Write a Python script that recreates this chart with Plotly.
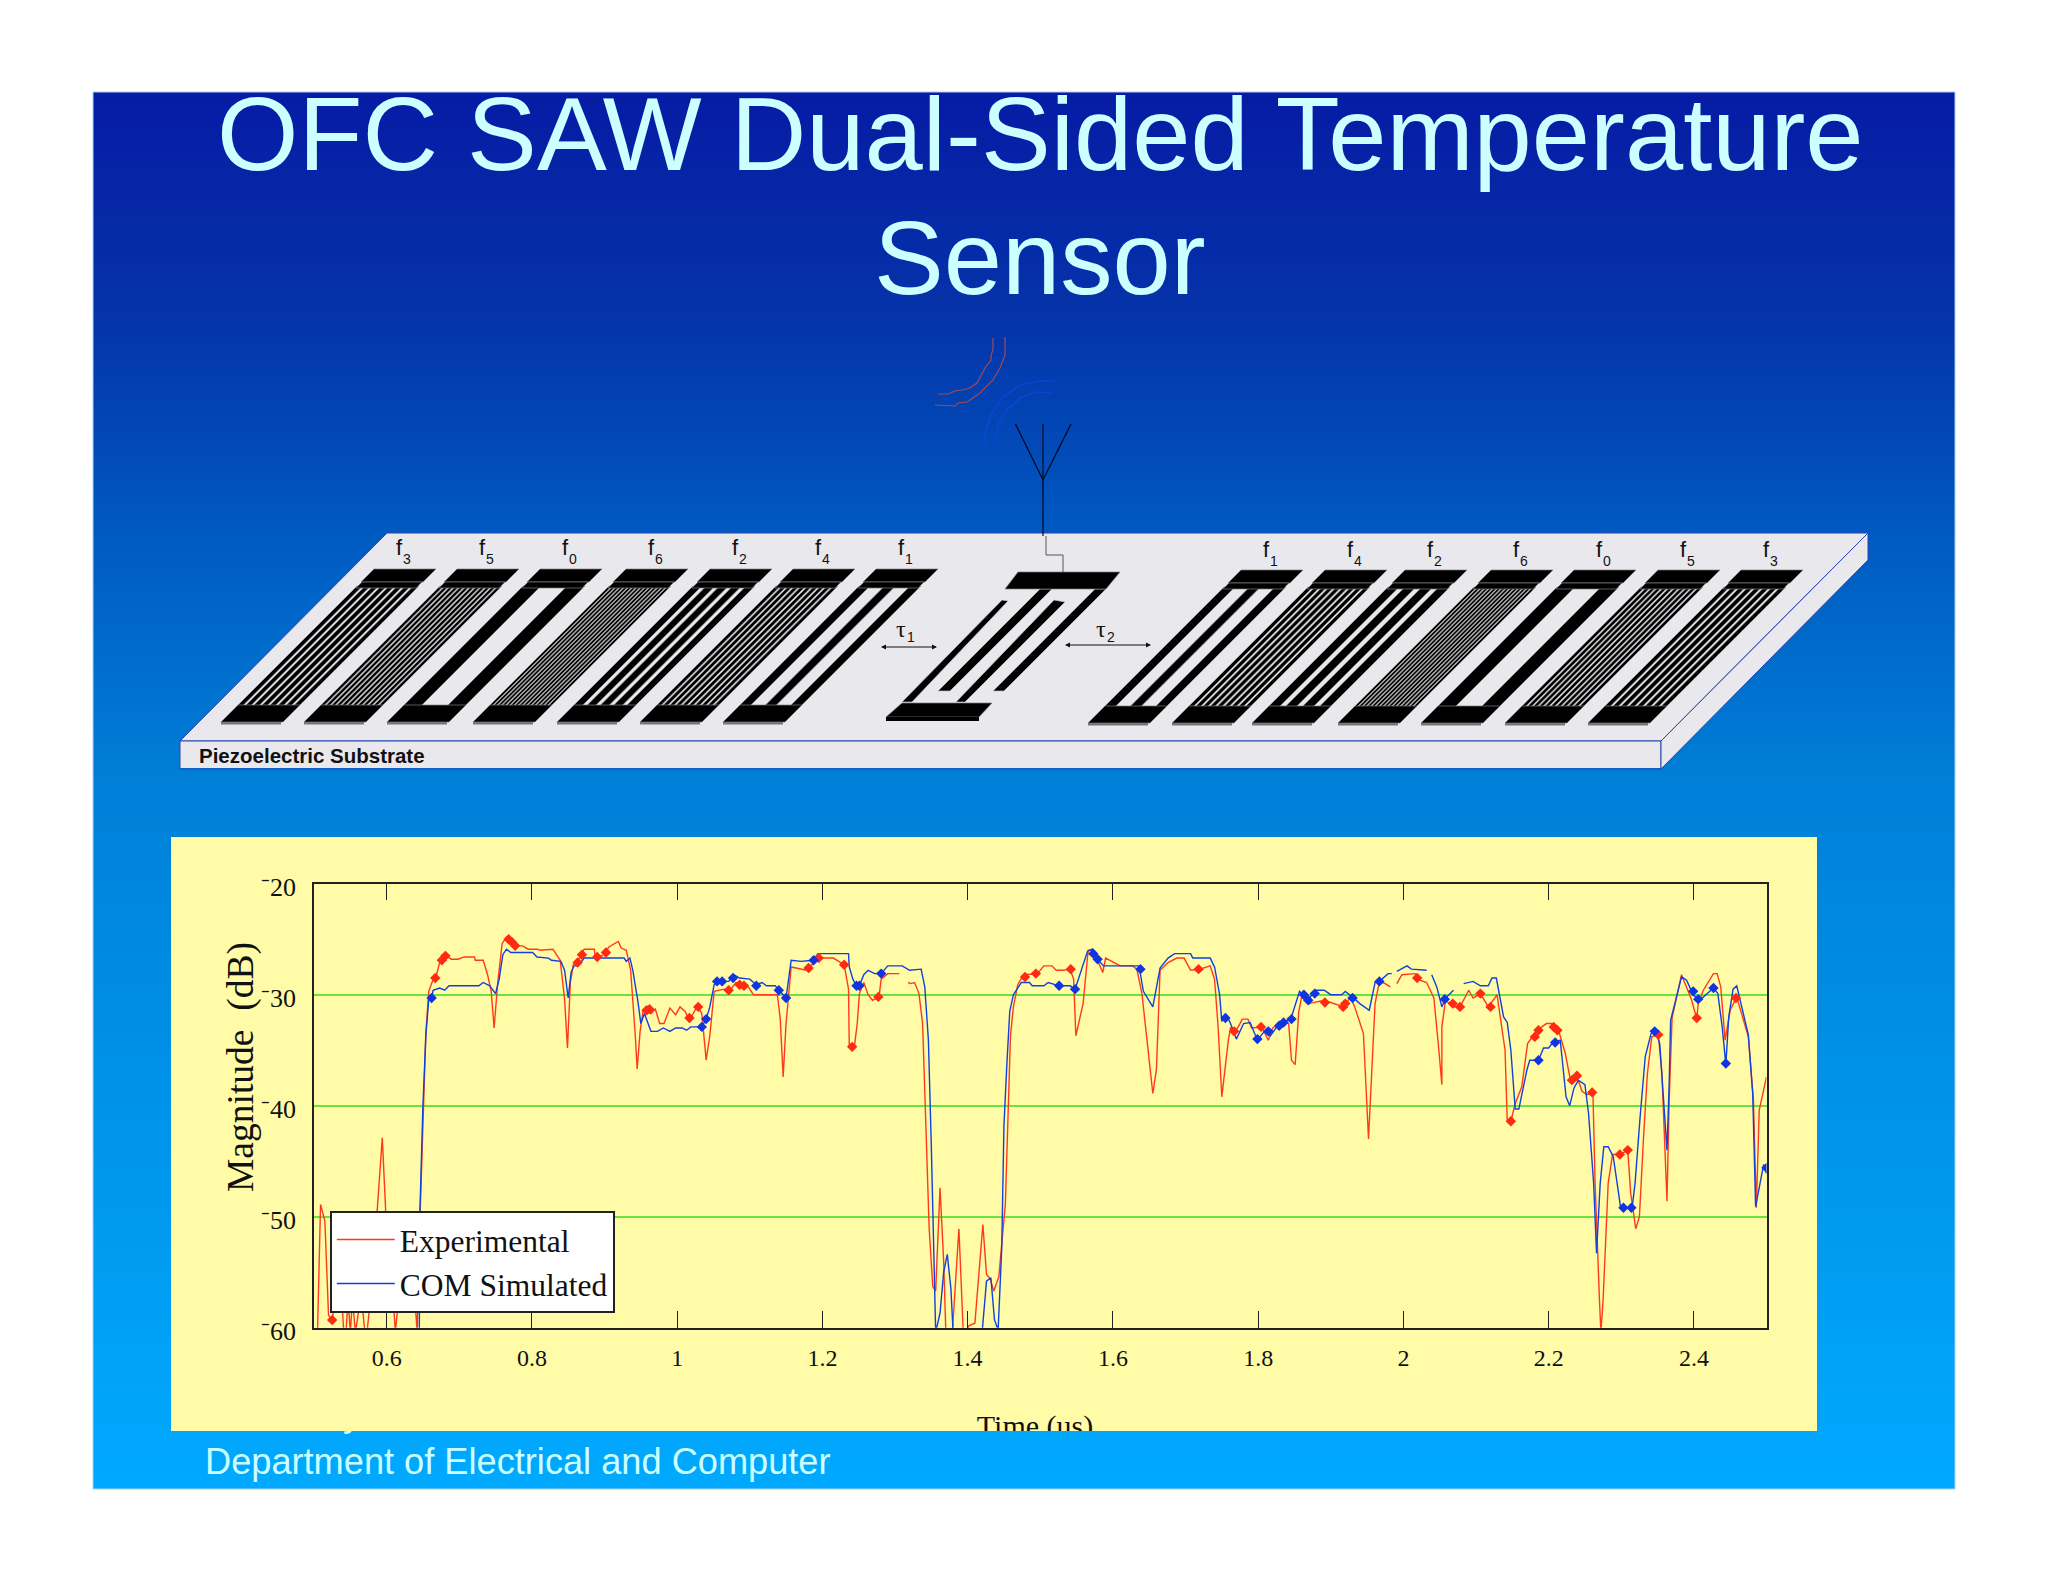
import numpy as np
import plotly.graph_objects as go

exp_time = [0.5, 0.505, 0.509, 0.515, 0.52, 0.525, 0.53, 0.536, 0.541, 0.544, 0.547, 0.55, 0.553, 0.557, 0.565, 0.57, 0.573, 0.58,
            0.594, 0.599, 0.606, 0.612, 0.617, 0.63, 0.638, 0.642, 0.646, 0.65, 0.654, 0.658, 0.663, 0.668, 0.673, 0.68, 0.689,
            0.698, 0.707, 0.721, 0.722, 0.733, 0.739, 0.744, 0.748, 0.753, 0.759, 0.765, 0.778, 0.787, 0.795, 0.808, 0.811,
            0.829, 0.839, 0.845, 0.849, 0.853, 0.857, 0.866, 0.872, 0.886, 0.887, 0.897, 0.906, 0.919, 0.923, 0.93, 0.936,
            0.942, 0.945, 0.949, 0.953, 0.958, 0.964, 0.97, 0.976, 0.982, 0.99, 0.998, 1.004, 1.011, 1.017, 1.028, 1.034,
            1.04, 1.045, 1.051, 1.065, 1.072, 1.081, 1.096, 1.105, 1.138, 1.142, 1.146, 1.15, 1.157, 1.178, 1.195, 1.215,
            1.23, 1.236, 1.237, 1.241, 1.244, 1.248, 1.251, 1.257, 1.263, 1.269, 1.278, 1.281, 1.29, 1.306, None, 1.318, 1.322,
            1.327, 1.333, 1.338, 1.342, 1.347, 1.352, 1.356, 1.362, 1.367, 1.37, 1.379, 1.388, 1.392, 1.394, 1.398, 1.402,
            1.41, 1.421, 1.426, 1.431, 1.436, 1.443, 1.452, 1.456, 1.459, 1.463, 1.469, 1.477, 1.496, 1.505, 1.516, 1.522,
            1.532, 1.541, 1.546, 1.549, 1.559, 1.566, 1.572, 1.579, 1.586, 1.59, 1.61, 1.627, 1.633, 1.64, 1.646, 1.655,
            1.66, 1.665, 1.676, 1.688, 1.698, 1.707, 1.72, 1.734, 1.74, 1.745, 1.75, 1.759, 1.762, 1.769, 1.775, 1.778,
            1.786, 1.791, 1.805, 1.814, 1.82, 1.835, 1.842, 1.846, 1.851, 1.856, 1.86, 1.87, 1.891, 1.918, 1.927, 1.933,
            1.945, 1.952, 1.961, 1.967, 1.975, 1.982, None, 1.991, 1.998, 2.016, 2.023, 2.032, 2.042, 2.048, 2.053, 2.053, 2.058,
            2.069, 2.078, 2.09, 2.096, 2.106, 2.117, 2.129, 2.135, 2.14, 2.143, 2.148, 2.154, 2.163, 2.171, 2.184, 2.197,
            2.204, 2.214, 2.223, 2.23, 2.239, 2.246, 2.253, 2.261, 2.264, 2.27, 2.272, 2.275, 2.282, 2.288, 2.298, 2.309,
            2.313, 2.32, 2.325, 2.331, 2.336, 2.342, 2.351, 2.356, 2.363, 2.366, 2.37, 2.383, 2.39, 2.397, 2.404, 2.406,
            2.413, 2.427, 2.432, 2.437, 2.443, 2.45, 2.459, 2.475, 2.482, 2.486, 2.49, 2.5]
exp_mag = [-60.4, -60, -48.9, -50.4, -58.9, -59.3, -57, -55, -60.4, -60.4, -57.5, -60.4, -57.5, -60.4, -57, -60.4, -60.4, -56,
           -42.9, -49.9, -54, -60.4, -57, -56, -56.5, -60.4, -50, -41, -33.5, -29.7, -28.8, -28.4, -27.1, -26.4, -26.8,
           -26.8, -26.6, -26.6, -26.9, -26.9, -28.2, -29.7, -33, -28.9, -25.4, -24.8, -25.6, -25.6, -25.9, -25.9, -26,
           -25.9, -26.9, -30.4, -34.8, -28.9, -27.3, -26.7, -25.9, -25.9, -26.5, -26.5, -25.7, -25.2, -25.8, -26, -27.8,
           -33.3, -36.7, -33.3, -31.5, -31.1, -31.7, -31.3, -32.6, -32.6, -31.2, -31.8, -31.1, -31.5, -32.3, -31, -31.7,
           -35.9, -33.7, -29.7, -29.5, -29.7, -28.9, -29.1, -30, -30, -32.2, -37.4, -32.6, -27.5, -27.8, -26.7, -26.7,
           -27.3, -29.5, -34.6, -34.7, -34.7, -32.6, -29.9, -28.9, -30, -30.5, -30.2, -28.6, -28.1, -28.1, None, -28.9, -29,
           -28.9, -29.9, -32.6, -40, -51, -56.3, -56.7, -47.4, -54, -60.4, -60.4, -51.1, -58, -60.4, -60.4, -59.8,
           -59.6, -50.7, -55.2, -55.6, -56.7, -55.4, -48.8, -40, -33.7, -31.1, -29.1, -28.2, -28.1, -27.4, -27.4, -27.8,
           -27.8, -27.7, -28.6, -33.7, -30.8, -26, -25.9, -26.9, -28, -26.7, -27.4, -27.4, -27.7, -29.9, -33.7, -38.9,
           -36.7, -27.8, -27.1, -26.7, -26.7, -27.8, -27.7, -27.4, -28.6, -33, -39.2, -34.1, -33, -33.3, -32.6, -32.2,
           -32.2, -33, -32.9, -34.1, -33, -32.4, -32.6, -35.9, -36.3, -31.5, -30.2, -30.8, -30.5, -31.1, -30.2, -31.1,
           -33.5, -43, -30.8, -28.8, -29, -29.3, None, -29, -28.2, -28.1, -28.7, -28.9, -30.3, -34.4, -38.1, -32.9, -30.5,
           -31.1, -31.1, -29.6, -30.3, -29.9, -31.1, -30, -32.6, -35, -41.3, -41.4, -39.8, -38.3, -34.4, -33.2, -32.6,
           -32.6, -33.3, -35.3, -37.7, -37.4, -38.7, -39, -38.8, -47, -57.5, -60.4, -57.5, -47, -44.4, -44.4, -44,
           -47.9, -51.1, -50, -42.5, -37.1, -33.8, -33.6, -37.1, -48.6, -39.5, -32.1, -28.2, -29.3, -30.5, -32.2, -30.8,
           -29.6, -28.1, -28.1, -29.3, -34.1, -31.4, -30.2, -33.8, -39.5, -49.2, -40.4, -37.4]

sim_time = [0.643, 0.645, 0.646, 0.65, 0.654, 0.658, 0.662, 0.664, 0.673, 0.68, 0.686, 0.727, 0.733, 0.742, 0.75, 0.755, 0.76, 0.765,
            0.771, 0.801, 0.807, 0.823, 0.827, 0.84, 0.845, 0.85, 0.854, 0.858, 0.864, 0.872, 0.927, 0.93, 0.935, 0.939,
            0.946, 0.95, 0.955, 0.964, 0.973, 0.981, 0.99, 0.998, 1.007, 1.013, 1.019, 1.034, 1.04, 1.045, 1.051, 1.055,
            1.071, 1.078, 1.086, 1.1, 1.109, 1.117, 1.123, 1.135, 1.15, 1.157, 1.171, 1.187, 1.194, 1.236, 1.237, 1.242,
            1.247, 1.251, 1.257, 1.263, 1.272, 1.281, 1.29, 1.31, 1.32, 1.336, 1.341, 1.346, 1.35, 1.354, 1.356, 1.362,
            1.367, 1.372, 1.377, 1.38, 1.42, 1.426, 1.432, 1.437, 1.442, 1.447, 1.45, 1.454, 1.458, 1.463, 1.474, 1.485,
            1.489, 1.505, 1.511, 1.526, 1.541, 1.548, 1.557, 1.565, 1.572, 1.579, 1.587, 1.636, 1.642, 1.655, 1.665, 1.676,
            1.685, 1.707, 1.71, 1.734, 1.74, 1.747, 1.75, 1.757, 1.762, 1.77, 1.78, 1.789, 1.799, 1.811, 1.817, 1.829,
            1.845, 1.857, 1.869, 1.878, 1.891, 1.9, 1.915, 1.92, 1.93, 1.94, 1.953, 1.961, 1.967, 1.979, 1.984, None, 1.991,
            2.005, 2.011, 2.032, None, 2.039, 2.046, 2.053, 2.058, 2.069, None, 2.083, 2.096, 2.106, 2.117, 2.122, 2.128, 2.138, 2.143,
            2.148, 2.154, 2.159, 2.17, 2.174, 2.186, 2.193, 2.2, 2.207, 2.216, 2.224, 2.229, 2.235, 2.241, 2.25, 2.255,
            2.262, 2.266, 2.271, 2.276, 2.282, 2.289, 2.299, 2.302, 2.315, 2.319, 2.326, 2.333, 2.341, 2.347, 2.353, 2.358,
            2.363, 2.366, 2.368, 2.383, 2.39, 2.399, 2.408, 2.427, 2.433, 2.439, 2.444, 2.448, 2.454, 2.459, 2.475, 2.481,
            2.485, 2.496, 2.5]
sim_mag = [-60.4, -60.4, -49.2, -40, -33.7, -30.4, -30.3, -29.6, -29.4, -29.6, -29.2, -29.2, -28.9, -29.2, -29.9, -28.6, -26.4, -25.9,
           -26.2, -26.2, -26.6, -26.7, -26.9, -27, -27.8, -30.3, -28, -27.4, -27.4, -26.7, -26.7, -27, -26.7, -27.8,
           -30.6, -32.6, -31.7, -33.3, -33.3, -33, -33.3, -33, -33, -33.2, -32.9, -32.9, -32.2, -31.1, -29.1, -28.8,
           -28.8, -28.2, -28.5, -28.6, -29.1, -28.9, -29.2, -29.2, -30.3, -26.9, -27, -26.9, -26.3, -26.3, -27.5, -28.6,
           -29.2, -29.2, -28.2, -27.8, -28.1, -28.1, -27.4, -27.4, -27.8, -27.7, -29.3, -34.1, -43.6, -56.5, -60.4, -58.7,
           -55, -53.4, -56.5, -60.4, -60.4, -55.8, -55.5, -59.3, -60.2, -52.8, -41.8, -36.3, -31.5, -30, -28.9, -28.9,
           -29.2, -29.2, -28.9, -29.2, -29.2, -29.5, -27.8, -26.1, -25.9, -26.8, -27.4, -27.4, -29.7, -31.1, -27.6, -26.7,
           -26.3, -26.3, -26.7, -26.7, -27.5, -30, -32.4, -31.9, -32.6, -34, -32.6, -32.5, -34.1, -33.1, -33.7, -32.6,
           -32.2, -29.7, -30.5, -29.6, -29.6, -30, -30, -29.7, -30.2, -30.8, -31.4, -28.9, -28.8, -28.1, -28.1, None, -27.9,
           -27.4, -27.7, -27.8, None, -28.2, -29.3, -31.1, -30.3, -29.6, None, -29, -28.8, -29.2, -29.2, -28.5, -28.5, -32, -32.5,
           -35, -40.3, -40.3, -36.8, -35.9, -35.9, -34.8, -34.8, -34.2, -34.1, -39.2, -40, -38.4, -37.7, -38.1, -40.7,
           -47, -53.3, -47, -43.7, -43.7, -44.6, -49.1, -49.2, -49.2, -47, -41, -35.6, -33.5, -33.2, -34.4, -39.5,
           -44, -38, -32.3, -28.4, -28.7, -30, -30.5, -29.4, -29.9, -32.9, -36.3, -32, -29.5, -29.2, -33.6, -38.9,
           -49.1, -45.3, -46.1]

# thick diamond blobs sitting on the curves
exp_mark_time = [0.525, 0.667, 0.676, 0.681, 0.768, 0.773, 0.777, 0.863, 0.869, 0.89, 0.902, 0.958, 0.962, 1.017, 1.029, 1.071, 1.086,
                 1.092, 1.181, 1.195, 1.23, 1.241, 1.277, 1.479, 1.494, 1.542, 1.718, 1.767, 1.804, 1.892, 1.917, 1.92, 2.019,
                 2.068, 2.078, 2.106, 2.12, 2.148, 2.181, 2.186, 2.207, 2.212, 2.232, 2.239, 2.26, 2.298, 2.309, 2.351, 2.404, 2.458]
exp_mark_mag = [-59.3, -28.5, -26.9, -26.5, -25, -25.3, -25.6, -27.1, -26.4, -26.6, -26.2, -31.4, -31.3, -32.1, -31.1, -29.6, -29.1,
                -29.2, -27.6, -26.7, -27.3, -34.7, -30.2, -28.4, -28.1, -27.7, -27.7, -33.3, -32.9, -30.7, -31.1, -30.8, -28.5,
                -30.8, -31.1, -29.9, -31.1, -41.4, -33.8, -33.2, -32.9, -33.2, -37.7, -37.3, -38.8, -44.4, -44, -33.6, -32.1, -30.3]
sim_mark_time = [0.662, 1.034, 1.04, 1.055, 1.062, 1.077, 1.109, 1.14, 1.15, 1.188, 1.247, 1.251, 1.281, 1.526, 1.548, 1.573, 1.579, 1.638,
                 1.755, 1.799, 1.814, 1.829, 1.835, 1.846, 1.863, 1.869, 1.878, 1.93, 1.967, 2.057, 2.186, 2.209, 2.303, 2.314, 2.346,
                 2.399, 2.406, 2.427, 2.444, 2.5]
sim_mark_mag = [-30.3, -32.9, -32.2, -28.8, -28.8, -28.5, -29.2, -29.6, -30.3, -26.9, -29.2, -29.2, -28.1, -29.2, -29.5, -26.3, -26.8, -27.7,
                -32.1, -34, -33.3, -32.8, -32.5, -32.2, -30, -30.5, -29.9, -30.3, -28.8, -30.4, -35.9, -34.3, -49.2, -49.2, -33.3,
                -29.7, -30.4, -29.4, -36.2, -45.6]

x_ticks = [0.6, 0.8, 1, 1.2, 1.4, 1.6, 1.8, 2, 2.2, 2.4]
y_ticks = [-60, -50, -40, -30, -20]
y_tick_labels = ["\u207b60", "\u207b50", "\u207b40", "\u207b30", "\u207b20"]

# the device drawing: bars are placed by their lower left corner, fingers are just counted
left_labels = ["3", "5", "0", "6", "2", "4", "1"]
left_bar_x = [221, 304, 387, 473, 557, 640, 723]
left_fingers = [8, 12, 2, 15, 5, 10, 3]
right_labels = ["1", "4", "2", "6", "0", "5", "3"]
right_bar_x = [1088, 1172, 1252, 1338, 1421, 1505, 1588]
right_fingers = [3, 9, 4, 15, 2, 11, 8]

SERIF = "Liberation Serif"
SANS = "Liberation Sans"
TITLE_COL = "#CCFFFF"
GREEN = "#66E63C"
RED = "#FF3A1C"
BLUE = "#1040E0"

# background stops for the slide
grad_y = [92, 320, 520, 780, 1488]
grad_r = [7, 5, 0, 0, 0]
grad_g = [28, 52, 88, 128, 170]
grad_b = [165, 170, 192, 216, 255]


def grad_col(y):
    return "rgb(%d,%d,%d)" % (np.interp(y, grad_y, grad_r), np.interp(y, grad_y, grad_g), np.interp(y, grad_y, grad_b))


shapes = []


def add_rect(x0, y0, x1, y1, col, layer="below"):
    shapes.append(dict(type="rect", xref="x", yref="y", x0=x0, y0=y0, x1=x1, y1=y1, layer=layer,
                       fillcolor=col, line=dict(width=0)))


def add_path(pts, fill=None, line="black", w=1, closed=True):
    p = "M " + " L ".join("%.1f,%.1f" % (a, b) for a, b in pts)
    if closed:
        p += " Z"
    shapes.append(dict(type="path", xref="x", yref="y", path=p, layer="below",
                       fillcolor=fill if fill else "rgba(0,0,0,0)",
                       line=dict(color=line, width=w)))


def slanted(x0, u0, u1, y0, y1, bot):
    # parallelogram on the 45 degree substrate
    return [(x0 + u0 + bot - y0, y0), (x0 + u1 + bot - y0, y0), (x0 + u1 + bot - y1, y1), (x0 + u0 + bot - y1, y1)]


def add_idt(x0, n, bot=722, width=62):
    # wide fingers for the short codes, the rest is a dense comb out to both edges
    sw = {2: 18, 3: 11}.get(n, 0.72 * width / n)
    pitch = (width - sw) / (n - 1)
    for i in range(n):
        u0 = pitch * i
        add_path(slanted(x0, u0, u0 + sw, bot - 136, bot - 16, bot), fill="black", line="#A0A0A0", w=0.7)
    add_path(slanted(x0, 0, width, bot - 153, bot - 140, bot), fill="black", line="#808080", w=0.7)
    add_path(slanted(x0, 1, width - 1, bot - 140, bot - 134, bot), fill="black", line="#808080", w=0.7)
    add_path(slanted(x0, 0, width, bot - 17, bot, bot), fill="black", line="#808080", w=0.7)
    add_rect(x0, bot, x0 + width - 2, bot + 2.5, "#777777")


# slide
for yy in range(92, 1489, 4):
    add_rect(93, yy, 1955, min(yy + 4, 1489), grad_col(yy))
add_path([(93, 92), (1955, 92), (1955, 1489), (93, 1489)], line="#A8D0F8", w=1)

# substrate
add_path([(387, 533), (1868, 533), (1661, 741), (180, 741)], fill="#E9E9ED", line="#2A45B0", w=1)
add_rect(180, 741, 1661, 768, "#E9E9ED")
add_path([(180, 741), (1661, 741), (1661, 769), (180, 769)], line="#2A45B0", w=1)
add_path([(1661, 741), (1868, 533), (1868, 560), (1661, 769)], fill="#E9E9ED", line="#2A45B0", w=1)

for xb, n in zip(left_bar_x, left_fingers):
    add_idt(xb, n)
for xb, n in zip(right_bar_x, right_fingers):
    add_idt(xb, n, bot=723)

# centre transducer
add_path([(902, 702), (912, 702), (1008, 601), (1002, 600)], fill="black", line="#C0C0C0", w=0.7)
add_path([(1040, 589), (1052, 589), (950, 691), (938, 691)], fill="black", line="#C0C0C0", w=0.7)
add_path([(956, 702), (965, 702), (1065, 602), (1054, 600)], fill="black", line="#C0C0C0", w=0.7)
add_path([(1095, 589), (1106, 589), (1004, 691), (993, 691)], fill="black", line="#C0C0C0", w=0.7)
add_path([(1018, 572), (1120, 572), (1106, 589), (1005, 589)], fill="black", line="#808080", w=0.7)
add_path([(902, 703), (992, 703), (979, 717), (886, 717)], fill="black", line="#808080", w=0.7)
add_rect(886, 717, 979, 721, "black")

# antenna, feed and the two pairs of wave arcs
add_path([(1015.5, 424), (1043, 480), (1071, 424)], line="#00081C", w=1.2, closed=False)
add_path([(1043, 424), (1043, 536)], line="#00081C", w=1.2, closed=False)
add_path([(1046, 536), (1046, 555), (1063, 555), (1063, 572)], line="#555555", w=1, closed=False)
add_path([(993, 338), (993, 350), (991, 355), (991, 360), (985, 368), (977, 383), (970, 388), (962, 390), (955, 391), (948, 394), (938, 394)],
         line="#A04A58", w=1.2, closed=False)
add_path([(1005, 337), (1005, 355), (1000, 368), (993, 380), (980, 393), (967, 402), (958, 403), (955, 406), (935, 405)],
         line="#A04A58", w=1.2, closed=False)
add_path([(985, 445), (985, 432), (992, 413), (1003, 397), (1020, 385), (1040, 381), (1055, 381)], line="#1244DC", w=1.2, closed=False)
add_path([(996, 442), (998, 425), (1007, 410), (1020, 398), (1037, 392), (1052, 393)], line="#1244DC", w=1.2, closed=False)

# the axis title runs off the yellow panel and gets cut at its edge
add_rect(950, 1431, 1130, 1465, grad_col(1448), layer="above")

anns = []


def note(x, y, text, size, col="black", font=SANS, weight="normal", **kw):
    anns.append(dict(xref="x", yref="y", x=x, y=y, text=text, showarrow=False,
                     font=dict(family=font, size=size, color=col, weight=weight), **kw))


note(1040, 133, "OFC SAW Dual-Sided Temperature", 104.7, TITLE_COL)
note(1040, 257, "Sensor", 104.7, TITLE_COL)
note(203, 1461, "Department of Electrical and Computer", 36.2, TITLE_COL, xanchor="left")
note(196.5, 755, "Piezoelectric Substrate", 20.5, "#111111", weight="bold", xanchor="left")
note(241, 1067, "Magnitude\u00a0\u00a0(dB)", 37.5, "#111111", SERIF, textangle=-90)

for lab, xb in zip(left_labels, left_bar_x):
    note(xb + 178, 547, "f", 22, "#111111")
    note(xb + 186, 559, lab, 14, "#111111")
for lab, xb in zip(right_labels, right_bar_x):
    note(xb + 178, 549, "f", 22, "#111111")
    note(xb + 186, 561, lab, 14, "#111111")
note(901, 629, "\u03c4", 24, "#111111", SERIF)
note(911, 637, "1", 14, "#111111")
note(1101, 629, "\u03c4", 24, "#111111", SERIF)
note(1111, 637, "2", 14, "#111111")

for x0, x1, yy in [(878, 937, 647), (1062, 1151, 645)]:
    anns.append(dict(xref="x", yref="y", axref="x", ayref="y", x=x1, y=yy, ax=x0, ay=yy, text=" ",
                     showarrow=True, arrowhead=2, arrowside="end+start", arrowsize=1, arrowwidth=1, arrowcolor="#111111"))

fig = go.Figure()

# text hidden by the panel, only its descender shows below the edge
fig.add_trace(go.Scatter(x=[203], y=[1417], mode="text", text=["University of Central Florida"], textposition="middle right",
                         textfont=dict(family=SANS, size=36, color=TITLE_COL), showlegend=False, hoverinfo="skip"))
fig.add_trace(go.Scatter(x=[171, 1817, 1817, 171, 171], y=[837, 837, 1431, 1431, 837], mode="lines", fill="toself",
                         fillcolor="#FFFBA6", line=dict(width=0), showlegend=False, hoverinfo="skip"))
fig.add_trace(go.Scatter(x=[1035], y=[1428], mode="text", text=["Time (us)"],
                         textfont=dict(family=SERIF, size=30, color="#111111"), showlegend=False, hoverinfo="skip"))

fig.add_trace(go.Scatter(x=exp_time, y=exp_mag, mode="lines", name="Experimental", xaxis="x2", yaxis="y2",
                         line=dict(color=RED, width=1.4), cliponaxis=False))
fig.add_trace(go.Scatter(x=sim_time, y=sim_mag, mode="lines", name="COM Simulated", xaxis="x2", yaxis="y2",
                         line=dict(color=BLUE, width=1.4), cliponaxis=False))
fig.add_trace(go.Scatter(x=exp_mark_time, y=exp_mark_mag, mode="markers", xaxis="x2", yaxis="y2", showlegend=False,
                         marker=dict(symbol="diamond", size=8, color="#FF2A10")))
fig.add_trace(go.Scatter(x=sim_mark_time, y=sim_mark_mag, mode="markers", xaxis="x2", yaxis="y2", showlegend=False,
                         marker=dict(symbol="diamond", size=8, color="#1035E0")))

fig.update_layout(
    width=2048,
    height=1582,
    margin=dict(l=0, r=0, t=0, b=0, autoexpand=False),
    paper_bgcolor="white",
    plot_bgcolor="rgba(0,0,0,0)",
    hovermode=False,
    shapes=shapes,
    annotations=anns,
    xaxis=dict(range=[0, 2048], domain=[0, 1], visible=False, fixedrange=True),
    yaxis=dict(range=[1582, 0], domain=[0, 1], visible=False, fixedrange=True),
    xaxis2=dict(domain=[314 / 2048, 1766.5 / 2048], range=[0.5, 2.5], anchor="y2", tickvals=x_ticks,
                ticktext=[str(v) for v in x_ticks], ticks="inside", ticklen=17, tickwidth=1.2, tickcolor="#222222",
                showline=True, linecolor="#222222", linewidth=1.5, mirror="allticks", showgrid=False, zeroline=False,
                tickfont=dict(family=SERIF, size=24, color="#111111"), ticklabelstandoff=8),
    yaxis2=dict(domain=[1 - 1327.7 / 1582, 1 - 883.7 / 1582], range=[-60, -20], anchor="x2", tickvals=y_ticks,
                ticktext=y_tick_labels, ticks="", showline=True, linecolor="#222222", linewidth=1.5, mirror=True,
                showgrid=True, gridcolor=GREEN, gridwidth=2.2, zeroline=False,
                tickfont=dict(family=SERIF, size=26, color="#111111"), ticklabelstandoff=11, ticklabelshift=3),
    legend=dict(x=329.8 / 2048, y=1 - 1210.5 / 1582, xanchor="left", yanchor="top", bgcolor="white", bordercolor="#222222",
                borderwidth=2, font=dict(family=SERIF, size=31.5, color="#111111"), itemwidth=58),
)

fig.write_html("out.html", config=dict(displayModeBar=False),
               post_script="document.body.style.margin='0';document.body.style.overflow='hidden';")
